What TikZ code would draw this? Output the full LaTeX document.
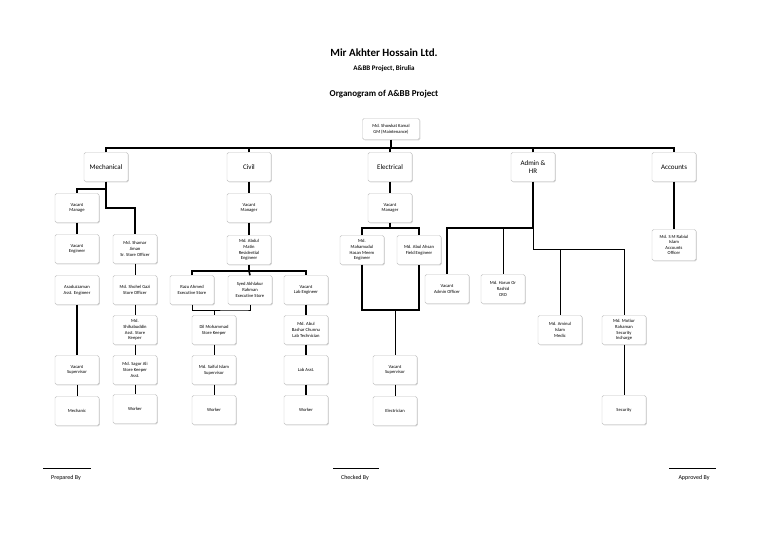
\documentclass[tikz,border=0pt]{standalone}
\usepackage{fontspec}
\setmainfont{Carlito}
\usetikzlibrary{shadows}
\begin{document}
\begin{tikzpicture}[x=1pt,y=-1pt,
 bx/.style={draw=black!25,fill=white,rounded corners=1.5pt,drop shadow={shadow xshift=0.8pt,shadow yshift=-0.8pt,opacity=0.35},minimum width=44pt,minimum height=29pt,align=center,inner sep=1pt,font=\fontsize{4.6}{5.6}\selectfont},
 dp/.style={bx,font=\fontsize{7}{8.5}\selectfont},
 ln/.style={line width=1.6pt},
 tn/.style={line width=0.9pt}]
\useasboundingbox (0,0) rectangle (768,543);
\node[font=\bfseries\fontsize{11}{13}\selectfont] (t1) at (384,53) {Mir Akhter Hossain Ltd.};
\node[font=\bfseries\fontsize{7}{8}\selectfont] (t2) at (384,69) {A\&BB Project, Birulia};
\node[font=\bfseries\fontsize{9}{11}\selectfont] (t3) at (384,94) {Organogram of A\&BB Project};
\node[bx,minimum width=57pt,minimum height=21pt] (gm) at (391,129) {Md. Showkat Kamal\\GM (Maintenance)};
% departments
\node[dp] (mech) at (106,167) {Mechanical};
\node[dp] (civ) at (249,167) {Civil};
\node[dp] (ele) at (390,167) {Electrical};
\node[dp] (adm) at (533,167) {Admin \&\\HR};
\node[dp] (acc) at (674,167) {Accounts};
\coordinate (bl) at (106,148); \coordinate (br) at (674,148);
\draw[ln] (gm) -- (391,148);
\draw[ln] (mech.north) |- (br) -- (acc.north);
\draw[ln] (civ.north) -- (249,148);
\draw[ln] (ele.north) -- (390,148);
\draw[ln] (adm.north) -- (533,148);
% mechanical
\node[bx] (m1) at (77,208) {Vacant\\Manage};
\node[bx] (m2) at (77,249) {Vacant\\Engineer};
\node[bx] (m3) at (77,290) {Asaduzzaman\\Asst. Engineer};
\node[bx] (m4) at (77,370) {Vacant\\Supervisor};
\node[bx] (m5) at (77,411) {Mechanic};
\node[bx] (s1) at (135,249) {Md. Shamar\\Jiman\\Sr. Store Officer};
\node[bx] (s2) at (135,290) {Md. Shohel Gazi\\Store Officer};
\node[bx] (s3) at (135,330) {Md.\\Shihabuddin\\Asst. Store\\Keeper};
\node[bx] (s4) at (135,370) {Md. Sagor Ali\\Store Keeper\\Asst.};
\node[bx] (s5) at (135,409) {Worker};
\draw[ln] (mech.south) -- (106,189) -| (m1.north);
\draw[ln] (mech.south) -- (106,208) -| (s1.north);
\draw[ln] (m1) -- (m2); \draw[ln] (m3) -- (m4); \draw[tn] (m4) -- (m5);
\draw[tn] (s1) -- (s2); \draw[tn] (s2) -- (s3); \draw[tn] (s3) -- (s4); \draw[tn] (s4) -- (s5);
% civil
\node[bx] (c1) at (249,208) {Vacant\\Manager};
\node[bx] (c2) at (249,250) {Md. Abdul\\Matin\\Residential\\Engineer};
\node[bx] (c3) at (192,290) {Razu Ahmed\\Executive Store};
\node[bx] (c4) at (250,290) {Syed Akhlakur\\Rahman\\Executive Store};
\node[bx] (c5) at (306,290) {Vacant\\Lab Engineer};
\node[bx] (c6) at (214,330) {Dil Mohammad\\Store Keeper};
\node[bx] (c7) at (214,370) {Md. Saiful Islam\\Supervisor};
\node[bx] (c8) at (214,410) {Worker};
\node[bx] (c9) at (306,330) {Md. Abul\\Bashar Chunnu\\Lab Technician};
\node[bx] (c10) at (306,370) {Lab Asst.};
\node[bx] (c11) at (306,410) {Worker};
\draw[ln] (civ) -- (c1); \draw[ln] (c1) -- (c2);
\draw[ln] (c2.south) -- (249,271); \draw[ln] (c3.north) |- (c5.north |- 0,271) -- (c5.north);
\draw[ln] (249,271) -- (c4.north);
\draw[tn] (c3.south) |- (247,310) -- (c4.south |- 0,310) -- (c4.south);
\draw[tn] (214,310) -- (c6.north);
\draw[tn] (c6) -- (c7); \draw[tn] (c7) -- (c8);
\draw[ln] (c5) -- (c9); \draw[ln] (c9) -- (c10); \draw[ln] (c10) -- (c11);
% electrical
\node[bx] (e1) at (390,208) {Vacant\\Manager};
\node[bx] (e2) at (362,250) {Md.\\Mahamudul\\Hasan Meem\\Engineer};
\node[bx] (e3) at (419,250) {Md. Abul Ahsan\\Field Engineer};
\node[bx] (e4) at (395,370) {Vacant\\Supervisor};
\node[bx] (e5) at (395,411) {Electrician};
\draw[ln] (ele) -- (e1);
\draw[ln] (e1.south) -- (390,228);
\draw[ln] (e2.north) |- (e3.north |- 0,228) -- (e3.north);
\draw[ln] (e2.south) |- (e3.south |- 0,310) -- (e3.south);
\draw[tn] (395,310) -- (e4.north); \draw[tn] (e4) -- (e5);
% admin
\node[bx] (a1) at (447,289) {Vacant\\Admin Officer};
\node[bx] (a2) at (503,289) {Md. Harun Or\\Rashid\\CRO};
\node[bx] (a3) at (560,330) {Md. Aminul\\Islam\\Medic};
\node[bx] (a4) at (624,330) {Md. Motiur\\Rahaman\\Security\\Incharge};
\node[bx] (a5) at (624,410) {Security};
\draw[ln] (adm.south) -- (533,228) -| (a1.north);
\draw[tn] (503,228) -- (a2.north);
\draw[tn] (533,228) -- (533,249) -| (a4.north);
\draw[tn] (560,249) -- (a3.north);
\draw[tn] (a4) -- (a5);
% accounts
\node[bx,minimum height=31pt] (r1) at (674,245) {Md. S M Rabiul\\Islam\\Accounts\\Officer};
\draw[ln] (acc) -- (r1);
% signatures
\coordinate (p1) at (43,468); \coordinate (p2) at (91,468);
\coordinate (q1) at (333,468); \coordinate (q2) at (379,468);
\coordinate (u1) at (669,468); \coordinate (u2) at (716,468);
\draw[line width=0.6pt] (p1) -- (p2); \draw[line width=0.6pt] (q1) -- (q2); \draw[line width=0.6pt] (u1) -- (u2);
\node[font=\fontsize{6}{7}\selectfont] (pb) at (66,478) {Prepared By};
\node[font=\fontsize{6}{7}\selectfont] (cb) at (355,478) {Checked By};
\node[font=\fontsize{6}{7}\selectfont] (ab) at (694,478) {Approved By};
\end{tikzpicture}
\end{document}
